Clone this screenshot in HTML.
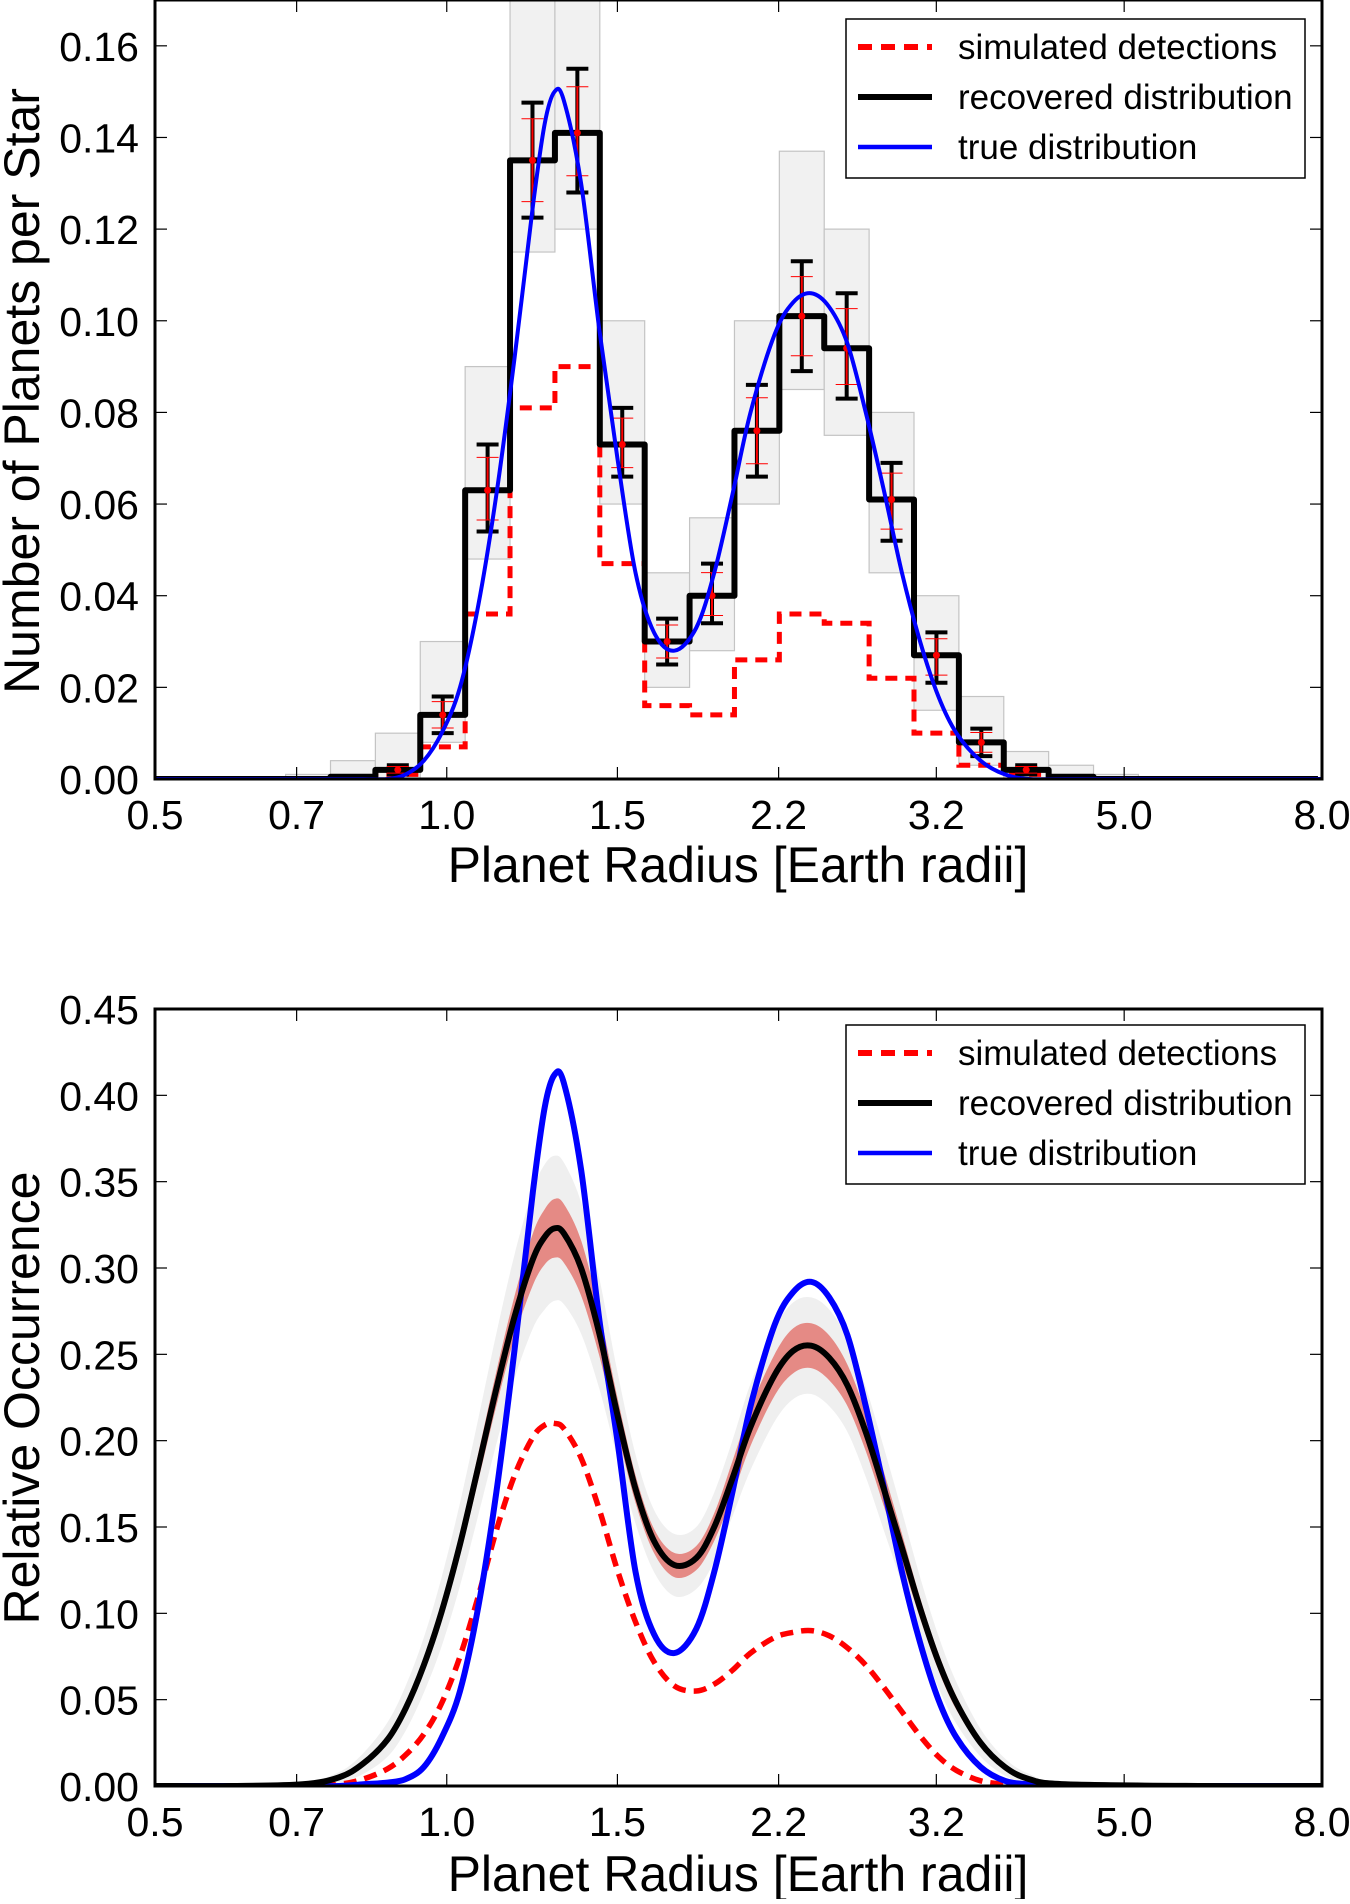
<!DOCTYPE html>
<html><head><meta charset="utf-8"><style>
html,body{margin:0;padding:0;background:#fff;}
svg text{font-family:"Liberation Sans",Arial,sans-serif;fill:#000;}
</style></head><body>
<svg id="fig" width="1350" height="1899" viewBox="0 0 1350 1899" xmlns="http://www.w3.org/2000/svg"></svg>
<script>
// ---- Top panel data (26 log-spaced bins) ----
const recoveredHist = [0,0,0,0,0.0005,0.002,0.014,0.063,0.135,0.141,0.073,0.030,0.040,0.076,0.101,0.094,0.061,0.027,0.008,0.002,0.0005,0,0,0,0,0];
const detectedHist  = [0,0,0,0,0,0.001,0.007,0.036,0.081,0.090,0.047,0.016,0.014,0.026,0.036,0.034,0.022,0.010,0.003,0.001,0,0,0,0,0,0];
const grayLow  = [0,0,0,0,0,0,0.008,0.048,0.115,0.120,0.060,0.020,0.028,0.060,0.085,0.075,0.045,0.015,0.003,0,0,0,0,0,0,0];
const grayHigh = [0,0,0,0.001,0.004,0.010,0.030,0.090,0.170,0.170,0.100,0.045,0.057,0.100,0.137,0.120,0.080,0.040,0.018,0.006,0.003,0.001,0,0,0,0];
const errLow  = [0,0,0,0,0,0.001,0.010,0.054,0.1225,0.128,0.066,0.025,0.034,0.066,0.089,0.083,0.052,0.021,0.005,0.001,0,0,0,0,0,0];
const errHigh = [0,0,0,0,0,0.003,0.018,0.073,0.1476,0.155,0.081,0.035,0.047,0.086,0.113,0.106,0.069,0.032,0.011,0.003,0,0,0,0,0,0];
const errBins = [5,6,7,8,9,10,11,12,13,14,15,16,17,18,19];

// ---- Curve grid (planet radius) ----
const radiusGrid = [0.5,0.6,0.710,0.774,0.820,0.869,0.907,0.947,0.988,1.032,1.078,1.125,1.175,1.227,1.262,1.292,1.321,1.376,1.437,1.500,1.566,1.636,1.717,1.809,1.888,1.971,2.058,2.179,2.277,2.377,2.481,2.591,2.706,2.825,2.949,3.079,3.216,3.357,3.555,3.766,3.989,4.347,6.0,8.0];
const trueTop = [0,0,0,0,0,0,0.001,0.004,0.010,0.020,0.038,0.062,0.092,0.125,0.143,0.150,0.148,0.130,0.098,0.070,0.045,0.032,0.028,0.033,0.045,0.062,0.080,0.097,0.104,0.106,0.103,0.095,0.080,0.063,0.045,0.030,0.018,0.010,0.004,0.001,0,0,0,0];
// ---- Bottom panel ----
const trueBottom = [0,0,0,0,0.001,0.002,0.004,0.011,0.028,0.055,0.104,0.170,0.253,0.344,0.393,0.412,0.407,0.357,0.270,0.200,0.124,0.088,0.077,0.091,0.124,0.170,0.220,0.267,0.286,0.292,0.283,0.261,0.220,0.173,0.124,0.083,0.050,0.028,0.011,0.003,0.001,0,0,0];
const recoveredCurve = [0,0,0.001,0.005,0.013,0.027,0.045,0.070,0.101,0.140,0.185,0.230,0.272,0.305,0.318,0.323,0.320,0.300,0.262,0.215,0.172,0.142,0.128,0.132,0.150,0.178,0.208,0.238,0.252,0.255,0.248,0.232,0.205,0.172,0.138,0.103,0.072,0.048,0.025,0.011,0.004,0.001,0,0];
const detectedCurve = [0,0,0,0.001,0.004,0.010,0.018,0.030,0.048,0.075,0.110,0.148,0.180,0.202,0.209,0.210,0.207,0.190,0.160,0.125,0.095,0.072,0.058,0.055,0.059,0.067,0.077,0.086,0.089,0.090,0.087,0.080,0.070,0.057,0.043,0.029,0.017,0.009,0.003,0.001,0,0,0,0];
const redSpread = [0,0,0,0,0,0.001,0.002,0.003,0.004,0.006,0.008,0.010,0.012,0.015,0.016,0.017,0.017,0.016,0.013,0.010,0.008,0.007,0.007,0.007,0.008,0.010,0.011,0.012,0.013,0.013,0.013,0.012,0.011,0.010,0.008,0.006,0.005,0.004,0.002,0.001,0,0,0,0];
const graySpread = [0,0,0.001,0.003,0.006,0.010,0.013,0.016,0.020,0.024,0.028,0.032,0.036,0.040,0.042,0.042,0.041,0.038,0.032,0.025,0.020,0.018,0.018,0.018,0.020,0.022,0.025,0.027,0.028,0.028,0.028,0.027,0.026,0.024,0.021,0.018,0.015,0.012,0.008,0.005,0.003,0.001,0,0];

const xTicks = [0.5,0.7,1.0,1.5,2.2,3.2,5.0,8.0];
const xTickLabels = ["0.5","0.7","1.0","1.5","2.2","3.2","5.0","8.0"];
const yTicksTop = [0,0.02,0.04,0.06,0.08,0.10,0.12,0.14,0.16];
const yTickLabelsTop = ["0.00","0.02","0.04","0.06","0.08","0.10","0.12","0.14","0.16"];
const yTicksBot = [0,0.05,0.10,0.15,0.20,0.25,0.30,0.35,0.40,0.45];
const yTickLabelsBot = ["0.00","0.05","0.10","0.15","0.20","0.25","0.30","0.35","0.40","0.45"];
const legendLabels = ["simulated detections","recovered distribution","true distribution"];

const NS="http://www.w3.org/2000/svg";
const svg=document.getElementById('fig');
function mk(tag,attrs,parent){const e=document.createElementNS(NS,tag);for(const k in attrs)e.setAttribute(k,attrs[k]);(parent||svg).appendChild(e);return e;}
const L=155,R=1322;
const xs=r=>L+(Math.log(r/0.5)/Math.log(16))*(R-L);
function ysF(top,bot,max){return v=>bot-(v/max)*(bot-top);}
function smoothPath(px,py){let d='M'+px[0]+','+py[0];for(let i=0;i<px.length-1;i++){const x0=px[Math.max(i-1,0)],y0=py[Math.max(i-1,0)],x1=px[i],y1=py[i],x2=px[i+1],y2=py[i+1],x3=px[Math.min(i+2,px.length-1)],y3=py[Math.min(i+2,px.length-1)];d+=' C'+(x1+(x2-x0)/6)+','+(y1+(y2-y0)/6)+' '+(x2-(x3-x1)/6)+','+(y2-(y3-y1)/6)+' '+x2+','+y2;}return d;}
const edge=k=>0.5*Math.pow(16,(k-0.09)/26);

function axes(g,top,bot,ys,yt,ytl,name){
  const frame=mk('rect',{x:L,y:top,width:R-L,height:bot-top,fill:'none',stroke:'#000','stroke-width':3},g);
  
  
  xTicks.forEach((t,i)=>{const x=xs(t);
    mk('line',{x1:x,x2:x,y1:bot,y2:bot-12,stroke:'#000','stroke-width':1.2},g);
    mk('line',{x1:x,x2:x,y1:top,y2:top+12,stroke:'#000','stroke-width':1.2},g);
    const tx=mk('text',{x:x,y:bot+50,'font-size':41,'text-anchor':'middle'},g);tx.textContent=xTickLabels[i];
    
    
  });
  yt.forEach((t,i)=>{const y=ys(t);
    mk('line',{x1:L,x2:L+12,y1:y,y2:y,stroke:'#000','stroke-width':1.2},g);
    mk('line',{x1:R,x2:R-12,y1:y,y2:y,stroke:'#000','stroke-width':1.2},g);
    const tx=mk('text',{x:L-16,y:y+15,'font-size':41,'text-anchor':'end'},g);tx.textContent=ytl[i];
    
    
  });
}
function legend(g,top){
  const box=mk('rect',{x:846,y:top,width:459,height:159,fill:'#fff',stroke:'#000','stroke-width':1.5},g);
  
  
  const styles=[{stroke:'#f00','stroke-dasharray':'14,9'},{stroke:'#000'},{stroke:'#00f','stroke-width':4.5}];
  legendLabels.forEach((lab,i)=>{const y=top+28+i*50;
    const ln=mk('line',Object.assign({x1:858,x2:932,y1:y,y2:y,'stroke-width':6},styles[i]),g);
    
    
    const t=mk('text',{x:958,y:y+12,'font-size':35},g);t.textContent=lab;
    
    
  });
}

// ===== Top panel =====
(function(){
  const top=0,bot=779,ys=ysF(top,bot,0.17);
  const g=mk('g',{});
  
  
  const clip=mk('clipPath',{id:'c1'},g);mk('rect',{x:L,y:top,width:R-L,height:bot-top},clip);
  const pg=mk('g',{'clip-path':'url(#c1)'},g);
  recoveredHist.forEach((v,k)=>{ if(grayHigh[k]<=0)return;
    const x0=xs(edge(k)),x1=xs(edge(k+1));
    const r=mk('rect',{x:x0,y:ys(grayHigh[k]),width:x1-x0,height:ys(grayLow[k])-ys(grayHigh[k]),fill:'#f1f1f1',stroke:'#c4c4c4','stroke-width':1.2},pg);
    
    
  });
  function stepPath(vals){let d='M'+xs(edge(0))+','+ys(vals[0]);vals.forEach((v,k)=>{d+=' L'+xs(edge(k))+','+ys(v)+' L'+xs(edge(k+1))+','+ys(v);});return d;}
  const det=mk('path',{d:stepPath(detectedHist),fill:'none',stroke:'#f00','stroke-width':5,'stroke-dasharray':'12,8'},pg);
  
  
  const rec=mk('path',{d:stepPath(recoveredHist),fill:'none',stroke:'#000','stroke-width':6,'stroke-linejoin':'round'},pg);
  
  
  errBins.forEach(k=>{const xc=xs(Math.sqrt(edge(k)*edge(k+1)));
    const lo=errLow[k],hi=errHigh[k],v=recoveredHist[k],rl=v-(v-lo)*0.72,rh=v+(hi-v)*0.72;
    const eb=mk('g',{},pg);
    
    
    mk('line',{x1:xc,x2:xc,y1:ys(lo),y2:ys(hi),stroke:'#000','stroke-width':4},eb);
    mk('line',{x1:xc-11,x2:xc+11,y1:ys(lo),y2:ys(lo),stroke:'#000','stroke-width':4},eb);
    mk('line',{x1:xc-11,x2:xc+11,y1:ys(hi),y2:ys(hi),stroke:'#000','stroke-width':4},eb);
    mk('line',{x1:xc,x2:xc,y1:ys(rl),y2:ys(rh),stroke:'#f00','stroke-width':2},eb);
    mk('line',{x1:xc-11,x2:xc+11,y1:ys(rl),y2:ys(rl),stroke:'#f00','stroke-width':1},eb);
    mk('line',{x1:xc-11,x2:xc+11,y1:ys(rh),y2:ys(rh),stroke:'#f00','stroke-width':1},eb);
    mk('circle',{cx:xc,cy:ys(v),r:3.5,fill:'#f00'},eb);
  });
  const tru=mk('path',{d:smoothPath(radiusGrid.map(xs),trueTop.map(ys)),fill:'none',stroke:'#00f','stroke-width':4},pg);
  
  
  axes(g,top,bot,ys,yTicksTop,yTickLabelsTop,'top-axes');
  legend(g,19);
  const xl=mk('text',{x:738,y:882,'font-size':50,'text-anchor':'middle'},g);xl.textContent='Planet Radius [Earth radii]';
  
  
  const yl=mk('text',{x:0,y:0,'font-size':50,'text-anchor':'middle',transform:'translate(39,391) rotate(-90)'},g);yl.textContent='Number of Planets per Star';
  
  
})();

// ===== Bottom panel =====
(function(){
  const top=1009,bot=1786,ys=ysF(top,bot,0.45);
  const g=mk('g',{});
  
  
  const clip=mk('clipPath',{id:'c2'},g);mk('rect',{x:L,y:top,width:R-L,height:bot-top-1},clip);
  const pg=mk('g',{'clip-path':'url(#c2)'},g);
  const px=radiusGrid.map(xs);
  function band(spread,fill,name){
    const up=recoveredCurve.map((v,i)=>ys(v+spread[i])),lo=recoveredCurve.map((v,i)=>ys(Math.max(0,v-spread[i])));
    const rx=px.slice().reverse(),rlo=lo.slice().reverse();
    let d=smoothPath(px,up)+' L'+rx[0]+','+rlo[0]+smoothPath(rx,rlo).replace(/^M[^ ]+/,'')+' Z';
    const p=mk('path',{d:d,fill:fill,stroke:'none'},pg);
    
    
  }
  band(graySpread,'#efefef','posterior-sample-band');
  band(redSpread,'#e58a85','recovered-uncertainty-band');
  const det=mk('path',{d:smoothPath(px,detectedCurve.map(ys)),fill:'none',stroke:'#f00','stroke-width':5.5,'stroke-dasharray':'13,8'},pg);
  
  
  const tru=mk('path',{d:smoothPath(px,trueBottom.map(ys)),fill:'none',stroke:'#00f','stroke-width':6},pg);
  
  
  const rec=mk('path',{d:smoothPath(px,recoveredCurve.map(ys)),fill:'none',stroke:'#000','stroke-width':6},pg);
  
  
  axes(g,top,bot,ys,yTicksBot,yTickLabelsBot,'bottom-axes');
  legend(g,1025);
  const xl=mk('text',{x:738,y:1891,'font-size':50,'text-anchor':'middle'},g);xl.textContent='Planet Radius [Earth radii]';
  
  
  const yl=mk('text',{x:0,y:0,'font-size':50,'text-anchor':'middle',transform:'translate(39,1398) rotate(-90)'},g);yl.textContent='Relative Occurrence';
  
  
})();
</script>
</body></html>
